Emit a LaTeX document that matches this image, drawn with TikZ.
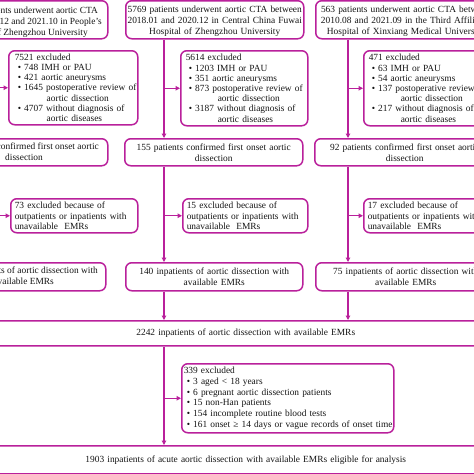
\documentclass[tikz,border=0pt]{standalone}
\usepackage{fontspec}
\setmainfont{Liberation Serif}
\usetikzlibrary{arrows.meta}
\definecolor{mag}{RGB}{185,32,155}
\definecolor{txt}{RGB}{20,20,20}
\newcommand\bul{\hspace*{3pt}\textbullet\ }
\newcommand\cont{\hspace*{32pt}}
\newcommand\topstrut{\rule{0pt}{10.5pt}}
\begin{document}
\begin{tikzpicture}[x=1pt,y=-1pt,
  box/.style={draw=mag, line width=1.5pt, rounded corners=6pt, inner ysep=0pt, inner xsep=0pt,
    anchor=north west, text=txt, font=\fontsize{9.4}{11}\selectfont},
  cbox/.style={box, align=center},
  ebox/.style={box, align=left, font=\fontsize{9.4}{10.2}\selectfont},
  rbox/.style={box, align=left, font=\fontsize{9.4}{10.7}\selectfont},
  ptxt/.style={anchor=base east, inner sep=0pt, text=txt, font=\fontsize{9.4}{11}\selectfont},
  arr/.style={draw=mag, line width=1.3pt, -{Triangle[length=4.5pt,width=4.5pt]}}
]
\useasboundingbox (0,0) rectangle (474,474);
\clip (0,0) rectangle (474,474);

% column x positions
\coordinate (lx) at (-22,0);
\coordinate (mx) at (164,0);
\coordinate (rx) at (348,0);

% row 1: sources
\node[box, minimum width=187pt, minimum height=38pt] (LT) at (-80,0) {};
\node[ptxt] (lt1) at (98,13.5) {patients underwent aortic CTA};
\node[ptxt] (lt2) at (102,24.5) {12 and 2021.10 in People's};
\node[ptxt] (lt3) at (88,35) {Hospital of Zhengzhou University};
\node[cbox, text width=178pt, minimum height=38pt] (MT) at (125,0)
  {\topstrut 5769 patients underwent aortic CTA between\\2018.01 and 2020.12 in Central China Fuwai\\Hospital of Zhengzhou University};
\node[cbox, text width=180pt, minimum height=38pt] (RT) at (315,0)
  {\topstrut 563 patients underwent aortic CTA between\\2010.08 and 2021.09 in the Third Affiliated\\Hospital of Xinxiang Medical University};

% row 1 exclusions
\node[ebox, inner xsep=6pt, text width=117pt, minimum height=74pt] (LE1) at (8,50)
  {\mbox{7521 excluded}\\\mbox{\bul 748 IMH or PAU}\\\mbox{\bul 421 aortic aneurysms}\\\mbox{\bul 1645 postoperative review of}\\\mbox{\cont aortic dissection}\\\mbox{\bul 4707 without diagnosis of}\\\mbox{\cont aortic diseases}};
\node[ebox, inner xsep=5pt, text width=117pt, minimum height=75pt] (ME1) at (180,50)
  {\mbox{5614 excluded}\\\mbox{\bul 1203 IMH or PAU}\\\mbox{\bul 351 aortic aneurysms}\\\mbox{\bul 873 postoperative review of}\\\mbox{\cont aortic dissection}\\\mbox{\bul 3187 without diagnosis of}\\\mbox{\cont aortic diseases}};
\node[ebox, inner xsep=5pt, text width=117pt, minimum height=75pt] (RE1) at (363,50)
  {\mbox{471 excluded}\\\mbox{\bul 63 IMH or PAU}\\\mbox{\bul 54 aortic aneurysms}\\\mbox{\bul 137 postoperative review of}\\\mbox{\cont aortic dissection}\\\mbox{\bul 217 without diagnosis of}\\\mbox{\cont aortic diseases}};

% row 2: confirmed
\node[box, minimum width=187pt, minimum height=27pt] (L2) at (-80,138) {};
\node[ptxt] (l21) at (99,149) {patients confirmed first onset aortic};
\node[ptxt] (l22) at (43,160) {dissection};
\node[cbox, text width=178pt, minimum height=27pt] (M2) at (124,138)
  {155 patients confirmed first onset aortic\\dissection};
\node[cbox, text width=180pt, minimum height=27pt] (R2) at (314,138)
  {92 patients confirmed first onset aortic\\dissection};

% row 3: EMR exclusions
\node[rbox, inner xsep=4pt, text width=119pt, minimum height=34pt] (L3) at (10,198)
  {\mbox{73 excluded because of}\\\mbox{outpatients or inpatients with}\\\mbox{unavailable\ \ EMRs}};
\node[rbox, inner xsep=4pt, text width=117pt, minimum height=34pt] (M3) at (182,198)
  {\mbox{15 excluded because of}\\\mbox{outpatients or inpatients with}\\\mbox{unavailable\ \ EMRs}};
\node[rbox, inner xsep=4pt, text width=119pt, minimum height=34pt] (R3) at (363,198)
  {\mbox{17 excluded because of}\\\mbox{outpatients or inpatients with}\\\mbox{unavailable\ \ EMRs}};

% row 4: inpatients
\node[box, minimum width=185pt, minimum height=28pt] (L4) at (-80,262) {};
\node[ptxt] (l41) at (98,273) {inpatients of aortic dissection with};
\node[ptxt] (l42) at (54,284) {available EMRs};
\node[cbox, text width=177pt, minimum height=28pt] (M4) at (125,262)
  {140 inpatients of aortic dissection with\\available EMRs};
\node[cbox, text width=180pt, minimum height=28pt] (R4) at (315,262)
  {75 inpatients of aortic dissection with\\available EMRs};

% merged
\node[cbox, text width=510pt, minimum height=25pt] (T) at (-10,320)
  {2242 inpatients of aortic dissection with available EMRs};
\node[rbox, inner xsep=2pt, text width=208pt, minimum height=69pt] (E) at (181,363)
  {\mbox{339 excluded}\\\mbox{\bul 3 aged < 18 years}\\\mbox{\bul 6 pregnant aortic dissection patients}\\\mbox{\bul 15 non-Han patients}\\\mbox{\bul 154 incomplete routine blood tests}\\\mbox{\bul 161 onset ≥ 14 days or vague records of onset time}};
\node[cbox, text width=510pt, minimum height=28pt] (F) at (-10,445)
  {1903 inpatients of acute aortic dissection with available EMRs eligible for analysis};

% connectors: left column
\draw[arr] (lx |- LT.south) -- (lx |- L2.north);
\draw[arr] (lx |- LE1.west) -- (LE1.west);
\draw[arr] (lx |- L2.south) -- (lx |- L4.north);
\draw[arr] (lx |- L3.west) -- (L3.west);
\draw[arr] (lx |- L4.south) -- (lx |- T.north);
% middle column
\draw[arr] (mx |- MT.south) -- (mx |- M2.north);
\draw[arr] (mx |- ME1.west) -- (ME1.west);
\draw[arr] (mx |- M2.south) -- (mx |- M4.north);
\draw[arr] (mx |- M3.west) -- (M3.west);
\draw[arr] (mx |- M4.south) -- (mx |- T.north);
% right column
\draw[arr] (rx |- RT.south) -- (rx |- R2.north);
\draw[arr] (rx |- RE1.west) -- (RE1.west);
\draw[arr] (rx |- R2.south) -- (rx |- R4.north);
\draw[arr] (rx |- R3.west) -- (R3.west);
\draw[arr] (rx |- R4.south) -- (rx |- T.north);
% bottom
\draw[arr] (mx |- T.south) -- (mx |- F.north);
\draw[arr] (mx |- E.west) -- (E.west);
\end{tikzpicture}
\end{document}
